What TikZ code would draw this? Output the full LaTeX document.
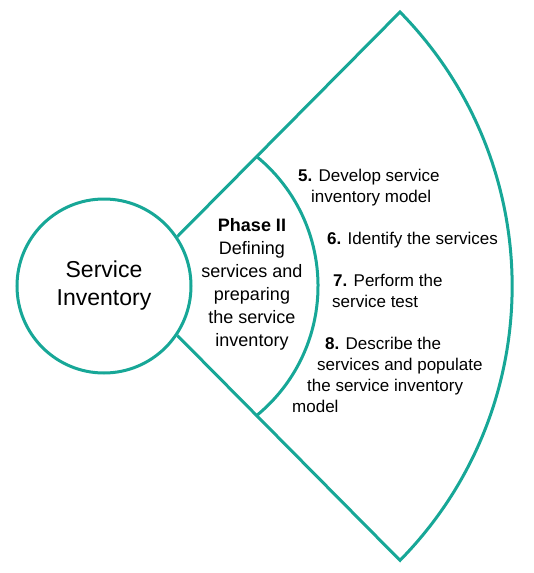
\documentclass[tikz,border=0pt]{standalone}
\usepackage{fontspec}
\setmainfont{Liberation Sans}
\definecolor{tealline}{RGB}{23,167,151}

\begin{document}
\begin{tikzpicture}[x=1pt,y=-1pt]
  \tikzstyle{every node}+=[inner sep=0pt]
  \tikzstyle{itemtext}=[anchor=base west,font=\fontsize{17}{20}\selectfont]
  \useasboundingbox (0,0) rectangle (534,573);
  % circle on the left
  \node [draw=tealline,line width=3pt,circle,minimum size=174pt,align=center,
         font=\fontsize{23}{28}\selectfont] (inv) at (104,286) {Service\\Inventory};
  \coordinate (outtop) at (400,12);
  \coordinate (intop) at (256,156);
  % fan with outer and inner arcs
  \draw [tealline,line width=3pt] (inv.34.6) -- (outtop)
        arc[start angle=-44.5,end angle=44.5,radius=391.2] -- (inv.-34.6);
  \draw [tealline,line width=3pt] (intop) arc[start angle=-51,end angle=51,radius=167.3];
  % phase text
  \node [align=center,font=\fontsize{18}{23}\selectfont] (phase) at (252,284)
        {\textbf{Phase II}\\Defining\\services and\\preparing\\the service\\inventory};
  % steps
  \node [itemtext] (s5a) at (298,181) {\textbf{5.} Develop service};
  \node [itemtext] (s5b) at (311,202) {inventory model};
  \node [itemtext] (s6) at (327,244) {\textbf{6.} Identify the services};
  \node [itemtext] (s7a) at (333,286) {\textbf{7.} Perform the};
  \node [itemtext] (s7b) at (332,307) {service test};
  \node [itemtext] (s8a) at (325,349) {\textbf{8.} Describe the};
  \node [itemtext] (s8b) at (317,370) {services and populate};
  \node [itemtext] (s8c) at (307,391) {the service inventory};
  \node [itemtext] (s8d) at (292,412) {model};
\end{tikzpicture}
\end{document}
